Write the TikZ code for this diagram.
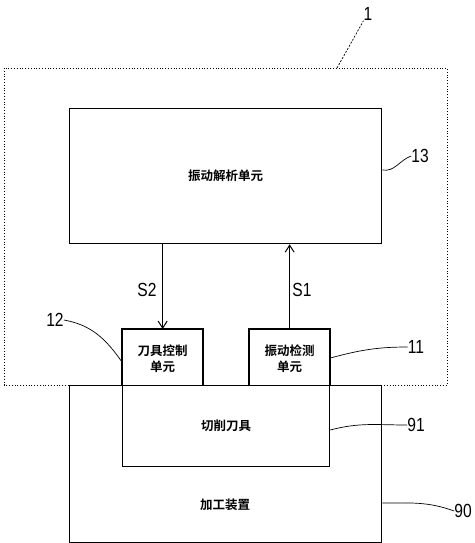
\documentclass[tikz,border=0pt]{standalone}
\usepackage{fontspec}
\newfontfamily\cjk{Noto Sans CJK SC}[BoldFont={* Bold}]
\newfontfamily\numf{Liberation Sans}[FakeStretch=0.82]
\usetikzlibrary{arrows.meta}
\begin{document}
\begin{tikzpicture}[x=1pt,y=-1pt,
  box/.style={draw,line width=1.3pt},
  txt/.style={font=\cjk\bfseries\fontsize{12.5}{16}\selectfont,align=center,inner sep=0pt},
  num/.style={font=\numf\fontsize{19}{20}\selectfont,inner sep=0pt},
  lead/.style={line width=0.7pt},
  sig/.style={line width=1pt,-{Straight Barb[length=7pt,width=9pt,line width=1pt]}}]
\useasboundingbox (0,0) rectangle (474,543);
\draw[dotted,line width=0.8pt] (4,68) rectangle (447,385);
\node[box,minimum width=312pt,minimum height=135pt,anchor=north west,inner sep=0pt] (an) at (69,108) {};
\node[txt] at (an.center) {振动解析单元};
\node[box,minimum width=80pt,minimum height=56pt,anchor=north west,inner sep=0pt] (tc) at (122,329) {};
\node[txt] at ([yshift=-1pt]tc.center) {刀具控制\\单元};
\node[box,minimum width=80pt,minimum height=56pt,anchor=north west,inner sep=0pt] (vd) at (249,329) {};
\node[txt] at ([yshift=-1pt]vd.center) {振动检测\\单元};
\node[box,fill=white,minimum width=312pt,minimum height=157pt,anchor=north west,inner sep=0pt] (pm) at (69,385) {};
\node[txt] at (225,505) {加工装置};
\node[box,fill=white,minimum width=207pt,minimum height=81pt,anchor=north west,inner sep=0pt] (ct) at (122,385) {};
\node[txt] at (ct.center) {切削刀具};
\draw[box] (tc.south west) -- (tc.north west) -- (tc.north east) -- (tc.south east);
\draw[box] (vd.south west) -- (vd.north west) -- (vd.north east) -- (vd.south east);
\draw[sig] (an.south -| tc.north) -- (tc.north);
\draw[sig] (vd.north) -- (an.south -| vd.north);
\node[num] (s2) at (147,290) {S2};
\node[num] (s1) at (302,290) {S1};
\node[num] (l1) at (368,14) {1};
\coordinate (p1) at (337,68);
\draw[lead,dashed,dash pattern=on 2pt off 1.5pt] (p1) -- (l1.south west);
\node[num] (l13) at (420,156) {13};
\draw[lead] (an.east |- 0,170) to[out=-10,in=200] (l13.west);
\node[num] (l12) at (55,320) {12};
\draw[lead] (l12.east) to[out=-10,in=125] (tc.west |- 0,362);
\node[num] (l11) at (416,347) {11};
\draw[lead] (vd.east |- 0,358) to[out=15,in=180] (l11.west);
\node[num] (l91) at (416,425) {91};
\draw[lead] (ct.east |- 0,430) to[out=15,in=180] (l91.west);
\node[num] (l90) at (463,511) {90};
\draw[lead] (pm.east |- 0,503) to[out=0,in=160] (l90.west);
\end{tikzpicture}
\end{document}
